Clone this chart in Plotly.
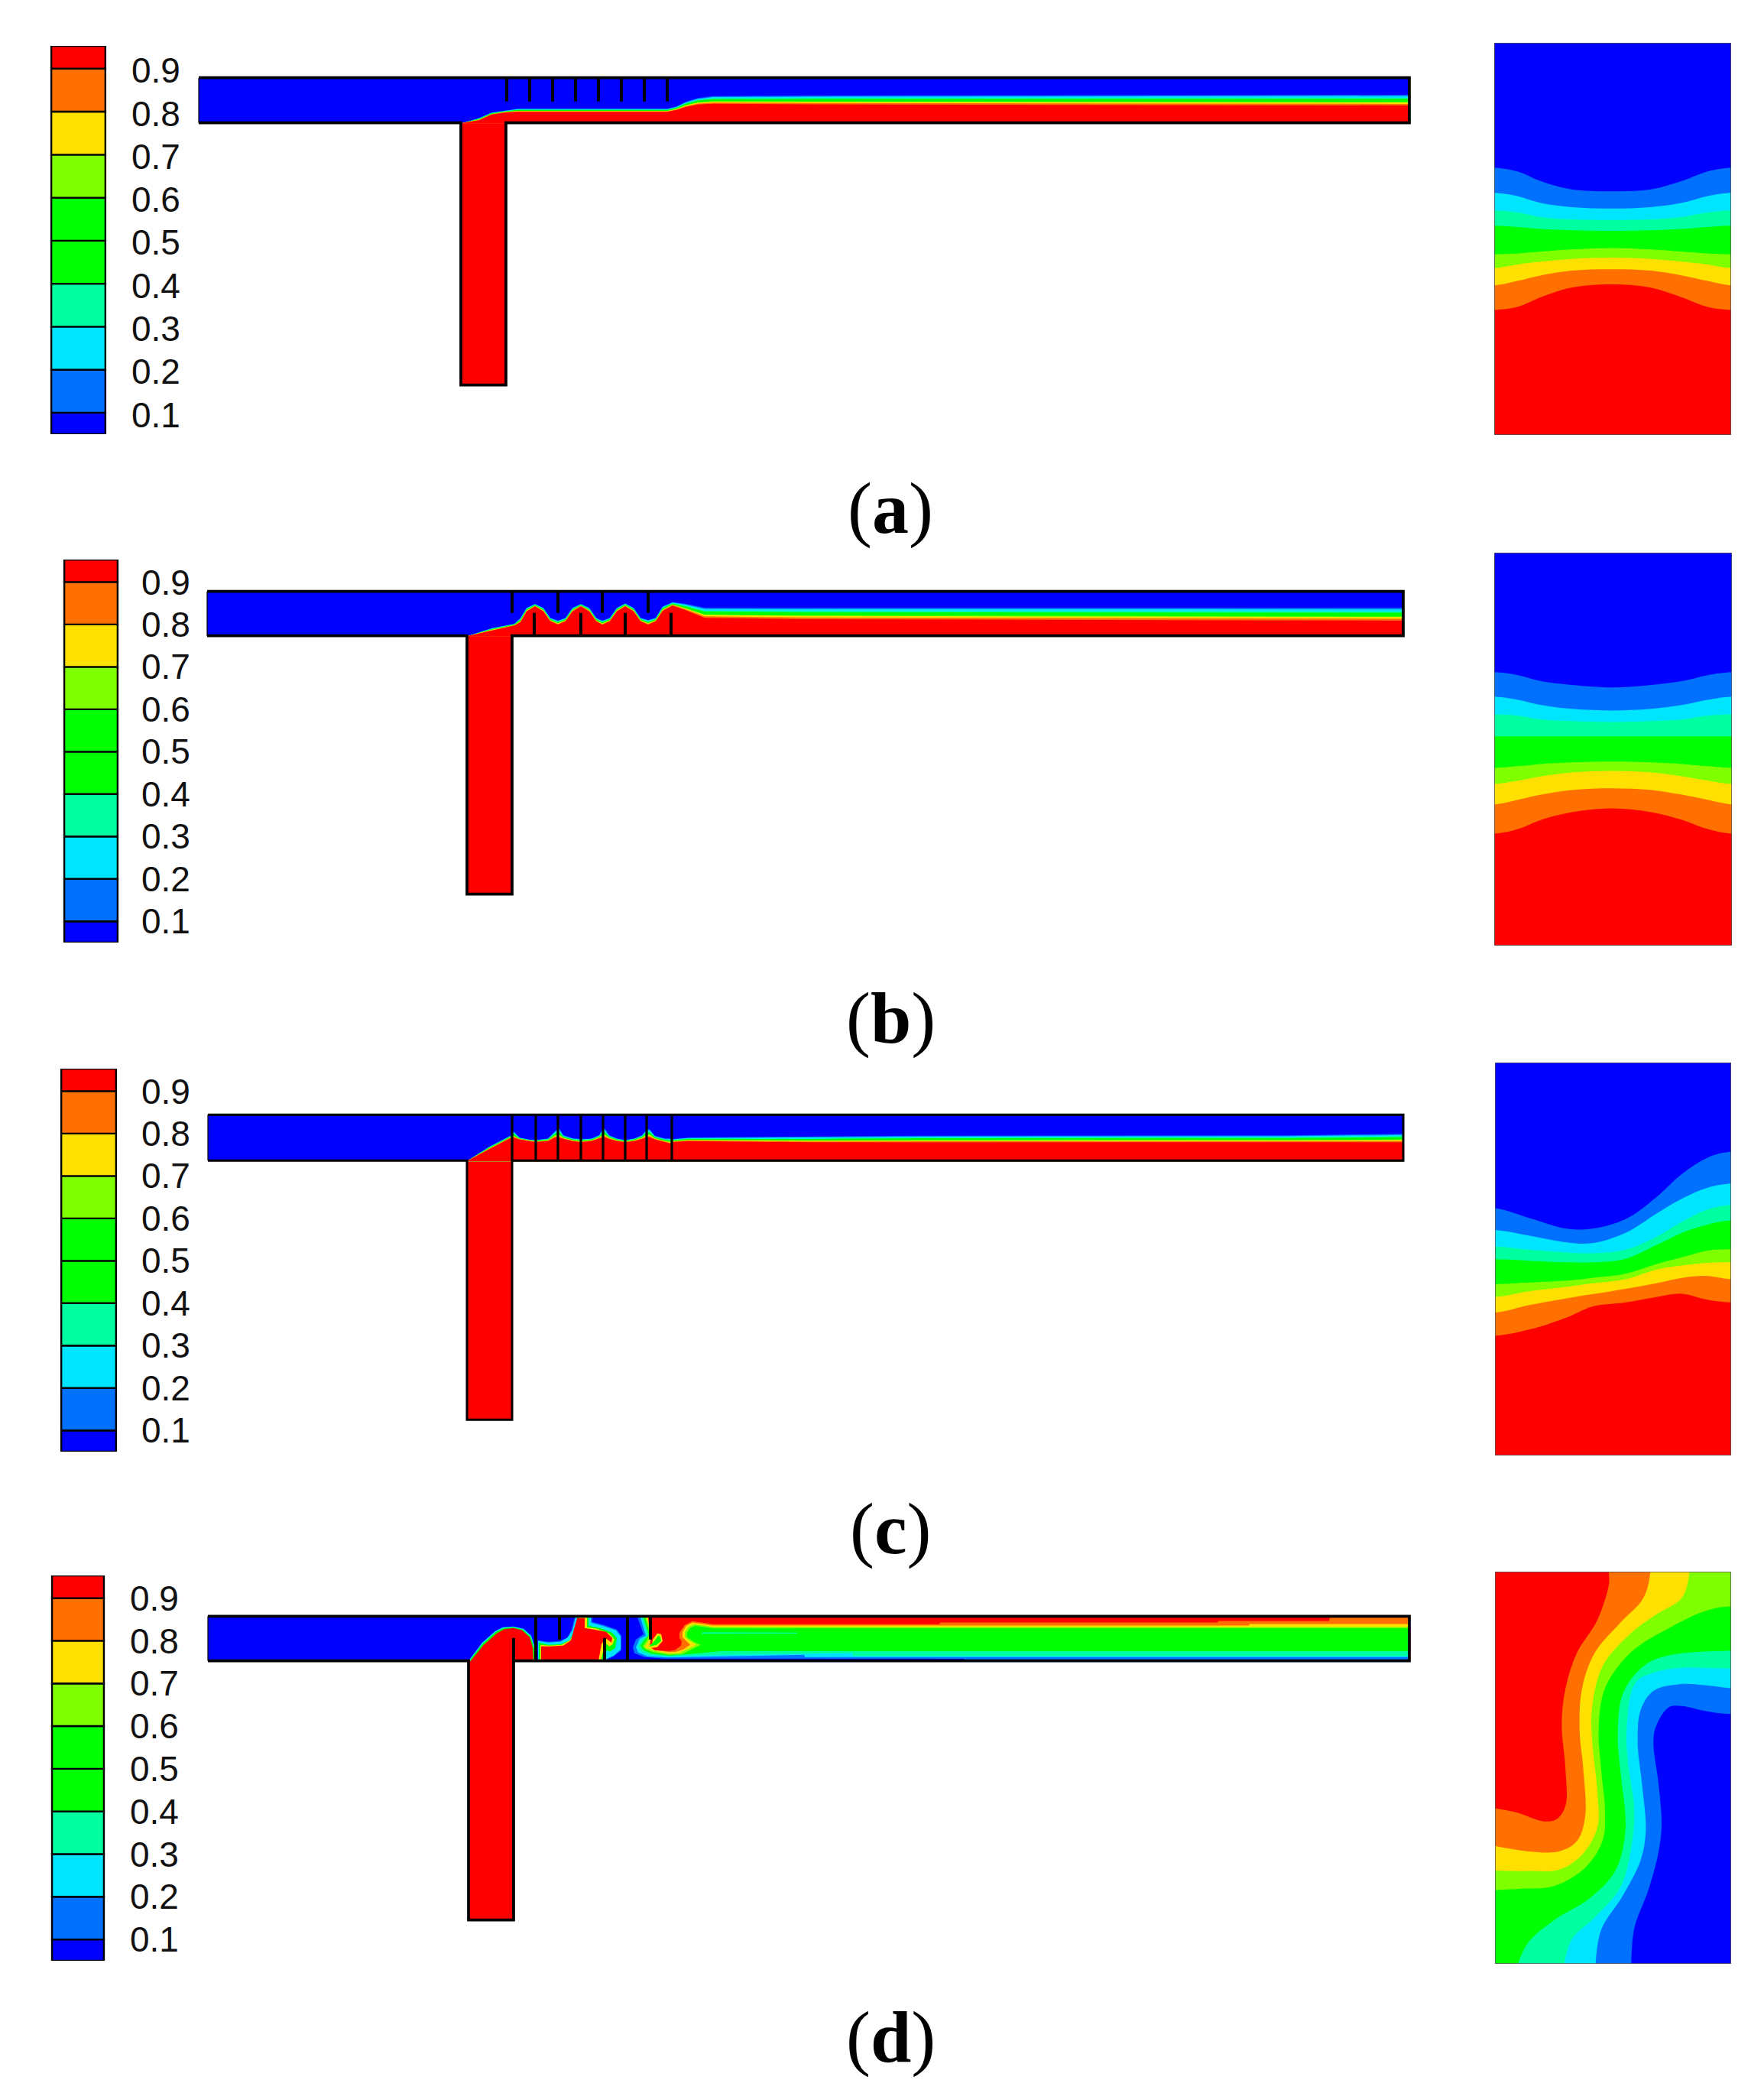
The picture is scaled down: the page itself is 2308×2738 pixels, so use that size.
import plotly.graph_objects as go

W, H = 2308, 2738

BLUE, MID, CYAN, SPRING, GREEN, CHART, YELLOW, ORANGE, RED = (
    "#0000ff", "#0070ff", "#00e5ff", "#00ffa0", "#00ff00", "#80ff00", "#ffe000", "#ff7000", "#ff0000")

# colour bar
bar_edges = [0.05, 0.1, 0.2, 0.3, 0.4, 0.5, 0.6, 0.7, 0.8, 0.9, 0.953]
bar_colors = [BLUE, MID, CYAN, SPRING, GREEN, GREEN, CHART, YELLOW, ORANGE, RED]
bar_ticks = [0.1, 0.2, 0.3, 0.4, 0.5, 0.6, 0.7, 0.8, 0.9]

# contour colours going down through the mixing layer, and how far down the layer each one starts
layer_colors = [MID, CYAN, SPRING, GREEN, CHART, YELLOW, ORANGE, RED]
layer_fracs = [0.0, 0.13, 0.3, 0.38, 0.68, 0.72, 0.85, 1.0]

# mixing layer in the channel: x along the channel, top and bottom of the layer above the lower wall
a_x = [3, 24, 40, 57, 74, 270, 282, 294, 310, 330, 457, 1241]
a_top = [0, 6.4, 13.4, 16, 18.4, 18.4, 21.4, 27.4, 32.4, 35, 35.7, 36.7]
a_bot = [0, 3.4, 10.7, 13.4, 14.4, 14.4, 16.7, 20.7, 24, 25, 24.2, 22.7]

b_x = [2, 32, 62, 70, 78, 89, 100, 109, 119, 129, 138, 149, 160, 169, 177, 187, 196, 207, 218, 227, 237, 247,
       256, 269, 286, 311, 440, 1225]
b_top = [0, 10, 15.7, 23.4, 36.7, 41.7, 36.7, 23.4, 20, 23.4, 36.7, 41.7, 36.7, 23.4, 20, 23.4, 36.7, 42.4, 36.7,
         23.4, 20.7, 23.4, 38.4, 44, 41.7, 36.7, 36.7, 36.7]
b_bot = [0, 6.7, 13.4, 17.7, 31.7, 38.4, 31.7, 19, 14.7, 19, 31.7, 38.4, 31.7, 19, 14.4, 19, 31.7, 38.4, 31.7,
         19, 14.4, 19, 32.4, 39.4, 33.4, 23.4, 21.7, 19.7]

c_x = [1, 29, 58, 61, 69, 83, 90, 106, 115, 120, 126, 138, 149, 163, 173, 178, 180, 186, 196, 207, 219, 229, 235,
       239, 246, 259, 266, 270, 289, 449, 595, 1072, 1225]
c_top = [0, 18.3, 33.3, 38.3, 30, 27.3, 27, 29, 38.3, 43.3, 33.3, 29.3, 28.3, 29, 33.3, 42.3, 42.3, 33.3, 29, 27,
         29, 33.3, 41, 41, 32.3, 29, 29, 28.3, 30, 31, 32.5, 33, 35]
c_bot = [0, 15, 30, 30, 27.6, 25, 24.3, 25.6, 30, 30, 28.3, 25.6, 24, 25.6, 29, 30.6, 30.6, 28.3, 25.6, 24, 25.6,
         28.3, 30.6, 30.6, 27.6, 24.3, 22.3, 24.3, 25.6, 24, 24, 24, 24]

# panel (d) has no single layer, so its contour regions are read as outlines
dome_cyan_x = [0, 18, 35, 45, 59, 72, 82, 87, 88]
dome_cyan_y = [0, 24, 39, 44, 45, 42, 33, 17, 0]
dome_green_x = [1, 19, 36, 46, 59, 71, 81, 86, 87]
dome_green_y = [0, 23, 38, 43, 44, 41, 32, 17, 0]
dome_red_x = [2, 20, 37, 47, 59, 70, 80, 84, 85]
dome_red_y = [-1, 21, 36, 41.5, 43, 40, 31, 17, -1]

swirl_mid_x = [91, 91, 104, 120, 130, 135, 139, 162, 162, 177, 194, 200, 200, 190, 181, 181]
swirl_mid_y = [0, 27, 25, 26, 31, 41, 57, 57, 51, 47, 41, 33, 14, 6, 2, 0]
swirl_cyan_x = [91, 91, 104, 120, 129, 136, 140, 160, 160, 175, 193, 199, 199, 190, 181, 181]
swirl_cyan_y = [0, 26, 24, 25, 30, 40, 57, 57, 50, 46, 40, 32, 15, 7, 3, 0]
swirl_green_x = [92, 92, 105, 121, 132, 139, 143, 157, 157, 172, 188, 194, 192, 185, 181, 176]
swirl_green_y = [0, 24, 21, 22, 27, 40, 57, 57, 46, 43, 37, 30, 17, 12, 14, 0]
swirl_yellow_x = [94, 94, 106, 122, 133, 140, 144, 155, 155, 168, 184, 191, 188, 184, 179, 173]
swirl_yellow_y = [0, 21, 20, 21, 27, 40, 57, 57, 44, 42, 36, 28, 21, 19, 24, 0]
swirl_red_x = [95, 95, 107, 124, 134, 142, 152, 152, 164, 180, 188, 187, 179, 174, 170]
swirl_red_y = [0, 19, 19, 20, 27, 56, 56, 43, 41, 38, 30, 24, 30, 22, 0]

wake_mid_x = [221, 229, 219, 215, 217, 230, 257, 287, 648, 649, 797, 798, 1231, 1231]
wake_mid_y = [57, 35, 28, 18, 10, 5, 3, 3, 2.8, 1.1, 1.1, 0, 0, 57]
wake_cyan_x = [225, 232, 224, 219, 222, 234, 262, 290, 439, 440, 1231, 1231]
wake_cyan_y = [57, 33, 29, 18, 11, 6, 4.5, 5, 7.9, 4.9, 4.9, 57]
wake_spring_x = [227, 234, 227, 222, 226, 237, 262, 290, 502, 503, 1231, 1231]
wake_spring_y = [57, 33, 28, 19, 12, 8, 5.7, 7, 10.3, 6.2, 6.2, 57]
wake_green_x = [229, 236, 230, 225, 229, 240, 262, 290, 330, 1231, 1231]
wake_green_y = [57, 34, 27, 20, 14, 9.5, 7, 9, 12.7, 12.7, 57]
wake_chart_x = [231, 237, 233, 230, 228, 232, 241, 262, 279, 292, 304, 295, 286, 286, 290, 297, 320, 1231, 1231]
wake_chart_y = [57, 36, 27, 22, 19, 15, 11.5, 8, 8.5, 15, 21, 25, 31, 37, 43, 46, 42.7, 42.7, 57]
wake_yellow_x = [233, 239, 236, 233, 231, 236, 244, 262, 276, 288, 298, 291, 283, 283, 288, 295, 320, 1231, 1231]
wake_yellow_y = [57, 36, 27, 22, 19, 16, 13, 9.5, 10.5, 16, 21, 25, 31, 38, 45, 48, 44.5, 44.5, 57]
wake_orange_x = [235, 240, 238, 236, 240, 246, 262, 272, 281, 290, 286, 280, 280, 285, 293, 320, 1021, 1022, 1231, 1231]
wake_orange_y = [57, 36, 26, 20, 16, 14, 11.5, 12, 15, 21, 25, 31, 38, 46, 50, 46.2, 46.2, 48.3, 48.3, 57]
wake_red_x = [235, 238, 239, 239, 244, 262, 270, 278, 279, 276, 276, 283, 293, 320, 616, 617, 980, 981, 1126, 1127]
wake_red_y = [57, 30, 22, 17, 14, 13, 14, 20, 25, 30, 37, 47, 52, 47.9, 47.9, 50.3, 50.3, 52.3, 52.3, 57]
hook_yellow_x = [241, 247, 252, 254, 247, 234, 230, 240]
hook_yellow_y = [28, 36, 35, 26, 18, 16, 19, 22]
hook_green_x = [244, 248, 251, 252, 246, 236, 240]
hook_green_y = [27, 33, 32, 26, 21, 18.5, 23]
streak_x = [305, 430, 430, 305]
streak_y = [37.5, 37, 35.7, 35.5]

d_regions = [
    (dome_cyan_x, dome_cyan_y, CYAN), (dome_green_x, dome_green_y, GREEN), (dome_red_x, dome_red_y, RED),
    (swirl_mid_x, swirl_mid_y, MID), (swirl_cyan_x, swirl_cyan_y, CYAN), (swirl_green_x, swirl_green_y, GREEN),
    (swirl_yellow_x, swirl_yellow_y, YELLOW), (swirl_red_x, swirl_red_y, RED),
    (wake_mid_x, wake_mid_y, MID), (wake_cyan_x, wake_cyan_y, CYAN), (wake_spring_x, wake_spring_y, SPRING),
    (wake_green_x, wake_green_y, GREEN), (wake_chart_x, wake_chart_y, CHART), (wake_yellow_x, wake_yellow_y, YELLOW),
    (wake_orange_x, wake_orange_y, ORANGE), (wake_red_x, wake_red_y, RED),
    (hook_yellow_x, hook_yellow_y, YELLOW), (hook_green_x, hook_green_y, GREEN), (streak_x, streak_y, SPRING),
]

# baffles: position along the channel, from height, to height
a_baffles = [(60, 59, 28), (90, 59, 28), (120, 59, 28), (150, 59, 28), (180, 59, 28), (210, 59, 28), (240, 59, 28),
             (270, 59, 28)]
b_baffles = [(59, 58, 30), (119, 58, 30), (177, 58, 30), (237, 58, 30), (88, 0, 30), (149, 0, 30), (207, 0, 30),
             (267, 0, 30)]
c_baffles = [(59, 60, 0), (90, 60, 0), (119, 60, 0), (149, 60, 0), (178, 60, 0), (207, 60, 0), (235, 60, 0),
             (268, 60, 0)]
d_baffles = [(59, 0, 30), (88, 58, 0), (119, 58, 28), (178, 0, 30), (208, 58, 0), (238, 58, 28)]

# side views: x of the samples, then the depth of each contour there
ab_x = [167, 260, 350, 470, 630, 780, 900, 1000, 1095]
side_a = [
    [530, 545, 580, 610, 617, 610, 580, 545, 530],
    [623, 635, 660, 675, 680, 675, 660, 635, 623],
    [687, 695, 712, 720, 722, 720, 712, 695, 687],
    [743, 748, 755, 760, 762, 760, 755, 748, 743],
    [848, 845, 838, 830, 825, 830, 838, 845, 848],
    [898, 885, 875, 865, 860, 865, 875, 885, 898],
    [962, 945, 925, 908, 903, 908, 925, 945, 962],
    [1052, 1040, 1005, 970, 958, 970, 1005, 1040, 1052],
]
side_b = [
    [510, 521, 543, 557, 566, 557, 543, 521, 510],
    [599, 611, 630, 644, 650, 644, 630, 611, 599],
    [664, 669, 683, 689, 692, 689, 683, 669, 664],
    [745, 745, 745, 745, 745, 745, 745, 745, 745],
    [860, 854, 846, 840, 837, 840, 846, 854, 860],
    [919, 907, 891, 877, 871, 877, 891, 907, 919],
    [994, 977, 958, 941, 935, 941, 958, 977, 994],
    [1101, 1084, 1050, 1022, 1008, 1022, 1050, 1084, 1101],
]
c_side_x = [170, 300, 450, 550, 680, 800, 900, 1000, 1092]
side_c = [
    [590, 625, 665, 665, 630, 550, 465, 405, 383],
    [670, 690, 715, 718, 680, 610, 555, 515, 500],
    [730, 742, 752, 755, 742, 695, 640, 595, 578],
    [777, 782, 788, 788, 775, 725, 680, 650, 635],
    [868, 862, 855, 845, 830, 795, 770, 745, 740],
    [915, 895, 878, 865, 850, 815, 800, 790, 788],
    [972, 945, 920, 905, 885, 865, 845, 838, 850],
    [1057, 1035, 990, 950, 935, 915, 903, 925, 935],
]

# (d) contours run from the lower left round to the top or right edge
d_side = [
    ([703, 715, 770, 810, 822, 810, 790, 800, 850, 900, 1000, 1095],
     [1510, 1380, 1240, 1100, 1000, 850, 700, 640, 570, 565, 585, 595]),
    ([563, 585, 670, 740, 760, 745, 728, 740, 790, 900, 1000, 1095],
     [1510, 1385, 1260, 1130, 1020, 850, 700, 580, 510, 485, 490, 500]),
    ([440, 470, 560, 660, 700, 715, 690, 685, 720, 800, 900, 1095],
     [1510, 1420, 1340, 1230, 1100, 950, 770, 650, 480, 440, 425, 428]),
    ([258, 300, 400, 540, 640, 680, 660, 650, 670, 750, 850, 1095],
     [1510, 1430, 1350, 1270, 1170, 1020, 800, 680, 520, 420, 380, 362]),
    ([168, 270, 400, 520, 590, 600, 585, 575, 600, 700, 850, 1000, 1095],
     [1240, 1235, 1225, 1160, 1060, 950, 800, 650, 500, 370, 280, 215, 200]),
    ([168, 300, 420, 510, 570, 570, 550, 548, 590, 700, 800, 900, 932],
     [1168, 1170, 1165, 1110, 1010, 880, 700, 580, 420, 300, 230, 170, 73]),
    ([168, 300, 420, 490, 522, 515, 500, 510, 560, 660, 750, 778],
     [1078, 1098, 1098, 1060, 970, 800, 650, 500, 370, 260, 170, 73]),
    ([168, 250, 360, 410, 445, 445, 430, 445, 490, 570, 615, 615],
     [940, 955, 988, 980, 930, 800, 630, 500, 370, 250, 120, 73]),
]

labels = ["a", "b", "c", "d"]

# page layout, in pixels of the picture
bar_boxes = [(67, 138, 60, 568), (84, 154, 732, 1233), (80, 152, 1398, 1899), (68, 136, 2061, 2565)]
bar_standoff = [31, 28, 30, 31]
bar_tick_shift = [0.0045, 0, 0, 0]
side_boxes = [(1955, 2265, 56, 569), (1955, 2266, 723, 1237), (1956, 2265, 1390, 1904), (1956, 2265, 2056, 2569)]
side_ranges = [(167, 1095, 73, 1510), (167, 1095, 73, 1510), (170, 1092, 57, 1495), (168, 1095, 73, 1510)]
# inlet left wall x, lower wall y, left end, right end, inlet foot, channel height, wall width
channels = [(603, 160.7, -343, 1241, -343, 59, 3.7), (611, 831.7, -340, 1225, -338, 58, 3.7),
            (611, 1518.3, -339, 1225, -339, 60, 3), (613, 2172.7, -341, 1231, -339, 58.4, 3.7)]
label_y = [664, 1331, 1999, 2664]

fig = go.Figure()
axis_no = 0


def new_axes(x0, x1, y0, y1, xrange, yrange):
    global axis_no
    axis_no += 1
    hidden = dict(visible=False, fixedrange=True)
    fig.update_layout({
        f"xaxis{axis_no}": dict(domain=[x0 / W, x1 / W], range=list(xrange), anchor=f"y{axis_no}", **hidden),
        f"yaxis{axis_no}": dict(domain=[1 - y1 / H, 1 - y0 / H], range=list(yrange), anchor=f"x{axis_no}", **hidden),
    })
    return f"x{axis_no}", f"y{axis_no}"


def area(x, y, color, xa, ya, shape="linear"):
    fig.add_trace(go.Scatter(x=x, y=y, mode="lines", fill="toself", fillcolor=color, hoverinfo="skip",
                             line=dict(width=0, color=color, shape=shape), xaxis=xa, yaxis=ya, showlegend=False))


def draw_colorbar(box, standoff, shift):
    xa, ya = new_axes(box[0] - 2, box[1] + 2, box[2], box[3], (-0.53, 0.53), (0.05, 0.953))
    heights = [hi - lo for lo, hi in zip(bar_edges[:-1], bar_edges[1:])]
    fig.add_trace(go.Bar(x=[0] * len(heights), y=heights, base=bar_edges[:-1], width=1, marker_color=bar_colors,
                         marker_line=dict(color="black", width=2.4), xaxis=xa, yaxis=ya, showlegend=False,
                         hoverinfo="skip"))
    n = ya[1:]
    fig.update_layout({f"yaxis{n}": dict(visible=True, side="right", tickvals=[t - shift for t in bar_ticks],
                                         ticktext=[str(t) for t in bar_ticks],
                                         showgrid=False, zeroline=False, showline=False, ticks="",
                                         ticklabelstandoff=standoff,
                                         tickfont=dict(family="Liberation Sans", size=46, color="#111111"))})


def draw_walls(ch, baffles, xa, ya):
    xl, xr, foot, top, lw = ch[2], ch[3], ch[4], ch[5], ch[6]
    fig.add_trace(go.Scatter(x=[xl, xr, xr, 59, 59, 0, 0, xl], y=[top, top, 0, 0, foot, foot, 0, 0], mode="lines",
                             line=dict(color="black", width=lw), xaxis=xa, yaxis=ya, showlegend=False, hoverinfo="skip"))
    fig.add_trace(go.Scatter(x=[xl, xl], y=[0, top], mode="lines", line=dict(color="black", width=1.2),
                             xaxis=xa, yaxis=ya, showlegend=False, hoverinfo="skip"))
    bx, by = [], []
    for pos, y0, y1 in baffles:
        bx += [pos, pos, None]
        by += [y0, y1, None]
    fig.add_trace(go.Scatter(x=bx, y=by, mode="lines", line=dict(color="black", width=lw + 0.3), xaxis=xa, yaxis=ya,
                             showlegend=False, hoverinfo="skip"))


def draw_channel(ch, baffles, layer=None, regions=None):
    xo, yo, xl, xr, foot, top, _ = ch
    pad = 6
    xa, ya = new_axes(xo + xl - pad, xo + xr + pad, yo - top - pad, yo - foot + pad, (xl - pad, xr + pad), (foot - pad, top + pad))
    area([xl, xr, xr, xl], [0, 0, top, top], BLUE, xa, ya)
    area([0, 59, 59, 0], [foot, foot, 0, 0], RED, xa, ya)
    if layer:
        lx, ltop, lbot = layer
        for frac, color in zip(layer_fracs, layer_colors):
            ys = [t + frac * (b - t) for t, b in zip(ltop, lbot)]
            area(lx + [lx[-1], lx[0]], ys + [-1, -1], color, xa, ya)
    for rx, ry, color in regions or []:
        area(rx, ry, color, xa, ya)
    draw_walls(ch, baffles, xa, ya)


def draw_side(box, rng, xs=None, curves=None, d_curves=None):
    x0, x1, y0, y1 = rng
    xa, ya = new_axes(box[0], box[1], box[2], box[3], (x0, x1), (y1, y0))
    area([x0, x1, x1, x0], [y0, y0, y1, y1], BLUE, xa, ya)
    far = 400
    colors = layer_colors
    if curves:
        # each contour closes far outside the box, the axes clip the corners off
        for ys, color in zip(curves, colors):
            area([x0 - far] + xs + [x1 + far, x1 + far, x0 - far], [ys[0]] + ys + [ys[-1], y1 + far, y1 + far], color, xa, ya, "spline")
    else:
        for (cx, cy), color in zip(d_curves, colors):
            px, py = list(cx), list(cy)
            if px[-1] >= x1 - 5:
                px += [x1 + far, x1 + far]
                py += [py[-1], y0 - far]
            else:
                px.append(px[-1])
                py.append(y0 - far)
            px.append(x0 - far)
            py.append(y0 - far)
            if cx[0] <= x0 + 5:
                px.append(x0 - far)
                py.append(cy[0])
            else:
                px += [x0 - far, cx[0]]
                py += [y1 + far, y1 + far]
            area(px, py, color, xa, ya, "spline")
    fig.add_trace(go.Scatter(x=[x0, x1, x1, x0, x0], y=[y0, y0, y1, y1, y0], mode="lines",
                             line=dict(color="#555555", width=1.5), xaxis=xa, yaxis=ya, showlegend=False, hoverinfo="skip"))


for box, standoff, shift in zip(bar_boxes, bar_standoff, bar_tick_shift):
    draw_colorbar(box, standoff, shift)

draw_channel(channels[0], a_baffles, layer=(a_x, a_top, a_bot))
draw_channel(channels[1], b_baffles, layer=(b_x, b_top, b_bot))
draw_channel(channels[2], c_baffles, layer=(c_x, c_top, c_bot))
draw_channel(channels[3], d_baffles, regions=d_regions)

draw_side(side_boxes[0], side_ranges[0], ab_x, side_a)
draw_side(side_boxes[1], side_ranges[1], ab_x, side_b)
draw_side(side_boxes[2], side_ranges[2], c_side_x, side_c)
draw_side(side_boxes[3], side_ranges[3], d_curves=d_side)

for name, y in zip(labels, label_y):
    fig.add_annotation(x=1165 / W, y=1 - y / H, xref="paper", yref="paper", showarrow=False,
                       xanchor="center", yanchor="middle",
                       text=f"(<b>{name}</b>)", font=dict(family="Liberation Serif", size=96, color="black"))

fig.update_layout(width=W, height=H, margin=dict(l=0, r=0, t=0, b=0), paper_bgcolor="white", plot_bgcolor="white",
                  showlegend=False, barmode="overlay")
fig.write_html("out.html", post_script="document.body.style.margin='0';", config={"displayModeBar": False})
